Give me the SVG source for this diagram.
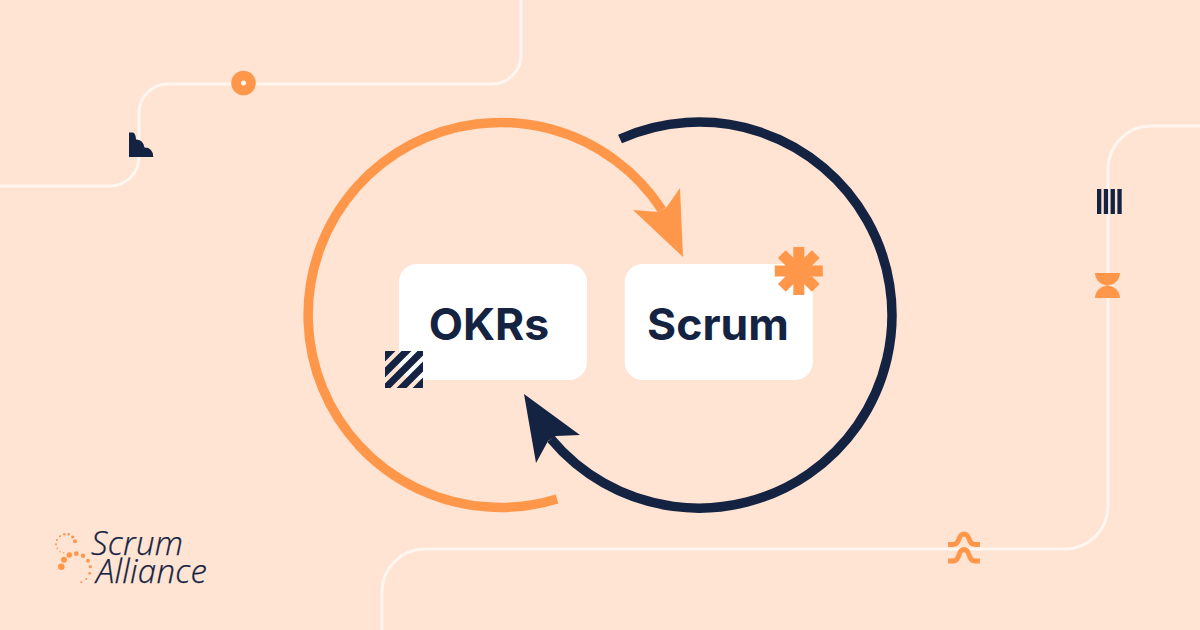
<svg xmlns="http://www.w3.org/2000/svg" width="1200" height="630" viewBox="0 0 1200 630">
<defs>
<style>
.bg{fill:#ffe3d3}
.wire{fill:none;stroke:#fff6f0;stroke-width:3}
.or{fill:#ff974a}
.nv{fill:#152342}
.card{fill:#fff}
.label{font-family:Inter,"Liberation Sans",sans-serif;font-weight:700;font-size:44.500px;fill:#152342;text-anchor:middle}
.logo{font-family:"Open Sans","Liberation Sans",sans-serif;font-style:italic;font-weight:300;font-size:33px;letter-spacing:.3px;fill:#152342;stroke:#152342;stroke-width:.25}
</style>
<clipPath id="hatch"><rect x="385" y="351" width="38" height="37"/></clipPath>
</defs>
<rect class="bg" width="1200" height="630"/>
<g id="wires">
<path class="wire" d="M0 186H110A29 29 0 0 0 139 157V113A29 29 0 0 1 168 84H492A29 29 0 0 0 521 55V0"/>
<path class="wire" d="M1200 126H1151A43 43 0 0 0 1108 169V506A43 43 0 0 1 1065 549H425A43 43 0 0 0 382 592V630"/>
</g>
<g id="okrs">
<rect class="card" x="399" y="264" width="188" height="116" rx="18"/>
<text class="label" x="489" y="340">OKRs</text>
<g id="okrs-hatch" clip-path="url(#hatch)" stroke="#152342" stroke-width="7" fill="none">
<path d="M375 366.500L435 306.500M375 382.500L435 322.500M375 398.500L435 338.500M375 414.500L435 354.500M375 430.500L435 370.500"/>
</g>
</g>
<g id="scrum">
<rect class="card" x="624.700" y="264" width="188" height="116" rx="18"/>
<text class="label" x="718" y="340">Scrum</text>
<g id="scrum-star" class="or">
<rect x="793.300" y="247" width="11" height="48"/>
<rect x="793.300" y="247" width="11" height="48" transform="rotate(45 798.800 271)"/>
<rect x="793.300" y="247" width="11" height="48" transform="rotate(90 798.800 271)"/>
<rect x="793.300" y="247" width="11" height="48" transform="rotate(135 798.800 271)"/>
</g>
</g>
<g id="connectors">
<path d="M557 499A192.500 192.500 0 1 1 662 210" fill="none" stroke="#ff974a" stroke-width="9.500"/>
<path class="or" d="M683 257L680 188L666 208L658 212L633 210Z"/>
<path d="M620 139A193 193 0 1 1 551 439" fill="none" stroke="#152342" stroke-width="9.500"/>
<path class="nv" d="M524 394L580 435L556 436L548 441L536 463Z"/>
</g>
<g id="decor">
<circle class="or" cx="243.500" cy="83" r="12.300"/><circle cx="243.500" cy="83" r="2.500" fill="#fff6f0"/>
<path class="nv" d="M129 157V132.500H133Q135.500 133 136 139.500Q143 139.500 144.500 147.500Q153 147.500 153.300 157Z"/>
<g class="nv"><rect x="1097" y="189" width="4.300" height="25"/><rect x="1103.800" y="189" width="4.300" height="25"/><rect x="1110.600" y="189" width="4.300" height="25"/><rect x="1117.400" y="189" width="4.300" height="25"/></g>
<path class="or" d="M1095 273H1120C1120 280 1114 285 1107.500 285.500C1101 285 1095 280 1095 273ZM1095 298C1095 291 1101 286 1107.500 285.500C1114 286 1120 291 1120 298Z"/>
<path d="M948 544.500H953C961 544.500 957 534 964 534C971 534 967 544.500 975 544.500H980M948 561H953C961 561 957 549.500 964 549.500C971 549.500 967 561 975 561H980" fill="none" stroke="#ff974a" stroke-width="5"/>
</g>
<g id="logo">
<g class="or">
<circle cx="61.300" cy="566.700" r="3.300"/><circle cx="64" cy="559.700" r="3"/><circle cx="69.300" cy="555" r="2.800"/><circle cx="76.300" cy="553.700" r="2.400"/><circle cx="83" cy="555.700" r="2.200"/><circle cx="88" cy="560.700" r="2"/><circle cx="90.300" cy="566.700" r="1.600"/><circle cx="89.700" cy="573.300" r="1.400"/><circle cx="86.300" cy="579" r="1.100"/><circle cx="81.300" cy="582.300" r="1"/>
<circle cx="75" cy="541.300" r="2"/><circle cx="72.700" cy="537" r="1.600"/><circle cx="68.700" cy="534.300" r="1.300"/><circle cx="64.300" cy="534.300" r="1.200"/><circle cx="60" cy="536.300" r="1"/><circle cx="57" cy="540" r="1"/><circle cx="56" cy="544.300" r="1"/><circle cx="57.300" cy="548.300" r=".9"/><circle cx="60" cy="551.700" r=".8"/><circle cx="63.700" cy="552.700" r=".7"/>
</g>
<text class="logo"><tspan x="91" y="555">Scrum</tspan><tspan x="96" y="583">Alliance</tspan></text>
</g>
</svg>
